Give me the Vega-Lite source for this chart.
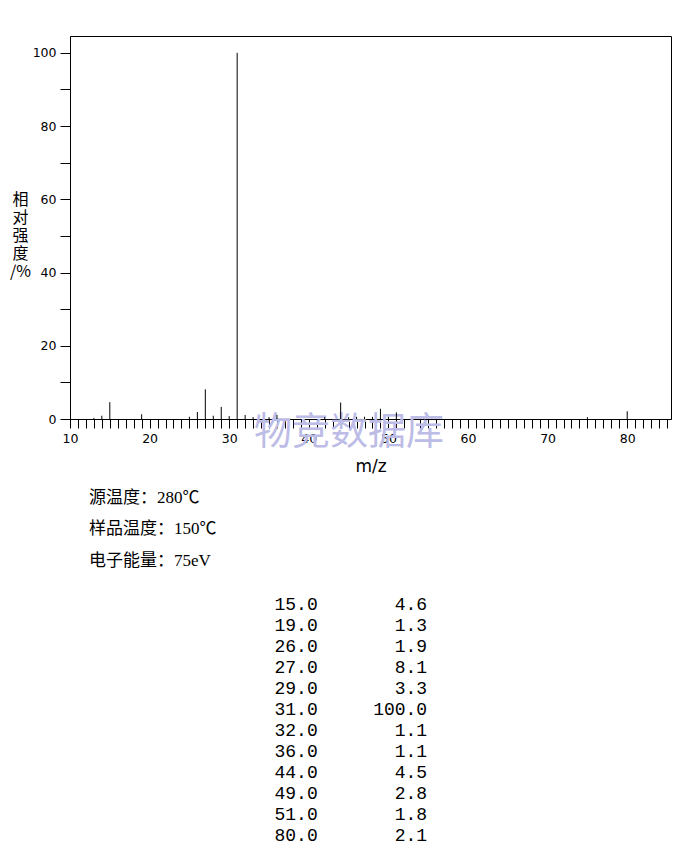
{
  "$schema": "https://vega.github.io/schema/vega-lite/v6.json",
  "padding": {"left": 8, "top": 35, "right": 5, "bottom": 5},
  "bounds": "flush",
  "spacing": 175.5,
  "config": {
    "view": {"stroke": "#000", "strokeWidth": 1},
    "axis": {
      "domainColor": "#000", "tickColor": "#000", "labelColor": "#000", "titleColor": "#000",
      "labelFont": "DejaVu Sans", "labelFontSize": 12.5, "titleFontWeight": "normal",
      "grid": false, "zindex": 1, "labelOverlap": false, "labelFlush": false
    }
  },
  "datasets": {
    "spectrum": [
      {"mz": 13, "intensity": 0.3}, {"mz": 14, "intensity": 0.9}, {"mz": 15, "intensity": 4.6},
      {"mz": 19, "intensity": 1.3}, {"mz": 25, "intensity": 0.6}, {"mz": 26, "intensity": 1.9},
      {"mz": 27, "intensity": 8.1}, {"mz": 28, "intensity": 0.9}, {"mz": 29, "intensity": 3.3},
      {"mz": 30, "intensity": 0.8}, {"mz": 31, "intensity": 100.0}, {"mz": 32, "intensity": 1.1},
      {"mz": 33, "intensity": 0.5}, {"mz": 35, "intensity": 0.5}, {"mz": 36, "intensity": 1.1},
      {"mz": 42, "intensity": 0.5}, {"mz": 44, "intensity": 4.5}, {"mz": 45, "intensity": 0.5},
      {"mz": 46, "intensity": 0.6}, {"mz": 47, "intensity": 0.6}, {"mz": 48, "intensity": 0.6},
      {"mz": 49, "intensity": 2.8}, {"mz": 50, "intensity": 0.6}, {"mz": 51, "intensity": 1.8},
      {"mz": 75, "intensity": 0.5}, {"mz": 80, "intensity": 2.1}
    ]
  },
  "vconcat": [
    {
      "width": 601,
      "height": 383,
      "title": {
        "text": ["源温度：280℃", "样品温度：150℃", "电子能量：75eV"],
        "orient": "bottom", "anchor": "start", "frame": "group", "dx": 19, "offset": 15,
        "baseline": "top", "align": "left", "lineHeight": 31.5,
        "font": "Liberation Serif, Noto Sans CJK SC", "fontSize": 17, "fontWeight": "normal", "color": "#000"
      },
      "data": {"name": "spectrum"},
      "layer": [
        {
          "mark": {"type": "text", "text": "物竞数据库", "font": "Noto Sans CJK SC", "fontSize": 38, "color": "#bcbce6", "clip": false, "align": "center", "baseline": "middle"},
          "data": {"values": [{}]},
          "encoding": {
            "x": {"datum": 45.06, "type": "quantitative"},
            "y": {"datum": -3.8, "type": "quantitative"}
          }
        },
        {
          "mark": {"type": "rule", "color": "#000", "strokeWidth": 1},
          "encoding": {
            "x": {
              "field": "mz", "type": "quantitative",
              "scale": {"domain": [10, 85.5], "nice": false, "zero": false},
              "axis": {
                "title": "m/z", "titleFont": "DejaVu Sans", "titleFontSize": 17, "titlePadding": 14,
                "values": [10,11,12,13,14,15,16,17,18,19,20,21,22,23,24,25,26,27,28,29,30,31,32,33,34,35,36,37,38,39,40,41,42,43,44,45,46,47,48,49,50,51,52,53,54,55,56,57,58,59,60,61,62,63,64,65,66,67,68,69,70,71,72,73,74,75,76,77,78,79,80,81,82,83,84,85],
                "tickCount": 200,
                "format": "d",
                "labelExpr": "datum.value % 10 === 0 ? datum.label : ''",
                "labelOverlap": false, "labelFlush": false,
                "tickSize": 9, "labelPadding": 4,
                "encode": {"ticks": {"update": {"y2": {"signal": "datum.value % 10 === 0 ? 9 : 5"}}}}
              }
            },
            "y": {
              "field": "intensity", "type": "quantitative",
              "scale": {"domain": [0, 104.6], "nice": false},
              "axis": {
                "title": ["相", "对", "强", "度", "/%"],
                "titleFont": "Noto Sans CJK SC", "titleFontSize": 16, "titleAngle": 0,
                "titleAlign": "center", "titleBaseline": "middle", "titleX": -50, "titleY": 163, "titleLineHeight": 18,
                "values": [0,10,20,30,40,50,60,70,80,90,100],
                "tickCount": 100,
                "format": "d",
                "labelExpr": "datum.value % 20 === 0 ? datum.label : ''",
                "labelOverlap": false,
                "tickSize": 10, "labelPadding": 4,
                "encode": {"ticks": {"update": {"x2": {"signal": "datum.value % 20 === 0 ? -10 : -5"}}}}
              }
            },
            "y2": {"datum": 0}
          }
        }
      ]
    },
    {
      "width": 386,
      "height": {"step": 21},
      "view": {"stroke": null},
      "data": {"name": "spectrum"},
      "transform": [{"filter": "datum.intensity >= 1"}],
      "encoding": {
        "y": {"field": "mz", "type": "ordinal", "axis": null}
      },
      "layer": [
        {
          "mark": {"type": "text", "font": "Liberation Mono", "fontSize": 18, "align": "right", "baseline": "middle", "color": "#000"},
          "encoding": {
            "x": {"datum": "m/z", "type": "nominal", "scale": {"type": "band", "domain": ["m/z", "相对强度"], "paddingInner": 0.473, "paddingOuter": 1, "align": 1}, "axis": null},
            "text": {"field": "mz", "type": "quantitative", "format": ".1f"}
          }
        },
        {
          "mark": {"type": "text", "font": "Liberation Mono", "fontSize": 18, "align": "right", "baseline": "middle", "color": "#000"},
          "encoding": {
            "x": {"datum": "相对强度", "type": "nominal"},
            "text": {"field": "intensity", "type": "quantitative", "format": ".1f"}
          }
        }
      ]
    }
  ]
}
